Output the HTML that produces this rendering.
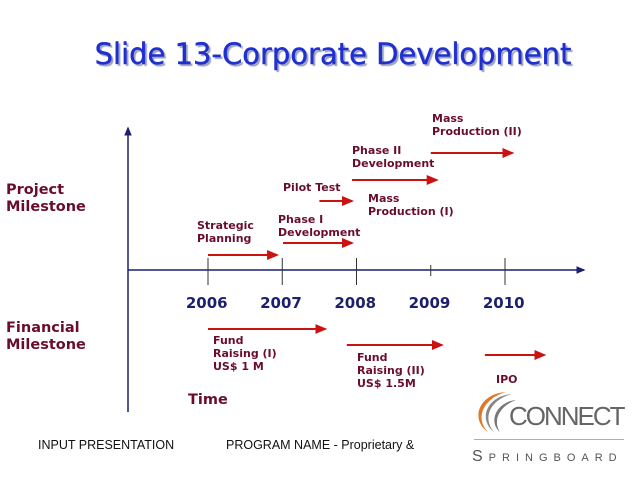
<!DOCTYPE html>
<html><head><meta charset="utf-8"><style>
body{margin:0;width:638px;height:478px;background:#fff;overflow:hidden;position:relative;font-family:"DejaVu Sans","Liberation Sans",sans-serif}
.t{position:absolute;color:#6a0c2e;font-weight:bold;font-size:11px;line-height:13px;white-space:nowrap}
.big{position:absolute;color:#6a0c2e;font-weight:bold;font-size:14.5px;line-height:17px}
.yr{position:absolute;color:#1c1f6e;font-weight:bold;font-size:15px;transform:translateX(-53%);top:294px}
.foot{position:absolute;font-family:"Liberation Sans",sans-serif;font-size:12.5px;color:#111;top:438px}
</style></head><body>
<div style="position:absolute;left:0;width:666px;text-align:center;top:37px;font-size:29px;color:#1f2fd0;-webkit-text-stroke:0.4px #1f2fd0;text-shadow:2px 2px 1px #9aa0b8">Slide 13-Corporate Development</div>
<div class="big" style="left:6px;top:182px">Project<br>Milestone</div>
<div class="big" style="left:6px;top:320px">Financial<br>Milestone</div>
<svg id="chart" width="638" height="478" style="position:absolute;left:0;top:0">
<defs>
<marker id="ar" markerWidth="6" markerHeight="6" refX="5" refY="3" orient="auto"><path d="M0,0.5 L6,3 L0,5.5z" fill="#cc1111"/></marker>
<marker id="ab" markerWidth="6" markerHeight="6" refX="5" refY="3" orient="auto"><path d="M0,0.5 L6,3 L0,5.5z" fill="#1c1f6e"/></marker>
</defs>
</svg>
<div class="t" style="left:197px;top:219px">Strategic<br>Planning</div>
<div class="t" style="left:278px;top:213px">Phase I<br>Development</div>
<div class="t" style="left:283px;top:181px">Pilot Test</div>
<div class="t" style="left:368px;top:192px">Mass<br>Production (I)</div>
<div class="t" style="left:352px;top:144px">Phase II<br>Development</div>
<div class="t" style="left:432px;top:112px">Mass<br>Production (II)</div>
<div class="t" style="left:213px;top:334px">Fund<br>Raising (I)<br>US$ 1 M</div>
<div class="t" style="left:357px;top:351px">Fund<br>Raising (II)<br>US$ 1.5M</div>
<div class="t" style="left:496px;top:373px">IPO</div>
<div class="big" style="left:188px;top:392px;font-size:14.5px">Time</div>
<div class="foot" style="left:38px">INPUT PRESENTATION</div>
<div class="foot" style="left:226px">PROGRAM NAME - Proprietary &amp;</div>
<div style="position:absolute;left:472px;top:390px;width:160px;height:80px">
<svg width="160" height="50" style="position:absolute;left:0;top:0">
<path d="M34,2 C6,4 -2,30 16,42 C2,28 12,8 34,2z" fill="#e07828"/>
<path d="M40,4 C14,6 6,30 22,42 C10,28 18,10 40,4z" fill="#888"/>
<path d="M44,10 C24,12 16,32 28,42 C20,30 28,16 44,10z" fill="#777"/>
</svg>
<div style="position:absolute;left:37px;top:11px;font-family:'Liberation Sans',sans-serif;font-size:26px;color:#666;letter-spacing:-2px">CONNECT</div>
<div style="position:absolute;left:2px;top:49px;width:150px;height:1px;background:#e8a060"></div>
<div style="position:absolute;left:0;top:58px;font-family:'Liberation Sans',sans-serif;font-size:16px;color:#555;letter-spacing:6px">S<span style="font-size:11px">PRINGBOARD</span></div>
</div>
<script>
const years=[2006,2007,2008,2009,2010];
const projStart=[2006.0,2007.01,2007.5,2007.94,2009.0];
const projEnd=[2006.93,2007.94,2007.94,2009.08,2010.1];
const projLevel=[255,243,201,180,153];
const finStart=[2006.0,2007.87,2009.73];
const finEnd=[2007.58,2009.15,2010.53];
const finLevel=[329,345,355];
const svg=document.getElementById('chart');
const NS='http://www.w3.org/2000/svg';
function x(y){return 208+(y-2006)*74.25;}
function ln(x1,y1,x2,y2,c,w,m,name){const l=document.createElementNS(NS,'line');
l.setAttribute('x1',x1);l.setAttribute('y1',y1);l.setAttribute('x2',x2);l.setAttribute('y2',y2);
l.setAttribute('stroke',c);l.setAttribute('stroke-width',w);if(m)l.setAttribute('marker-end','url(#'+m+')');


svg.appendChild(l);}
ln(128,412,128,128,'#1c1f6e',1.5,'ab','vertical-axis');
ln(128,270,584,270,'#1c1f6e',1.5,'ab','time-axis');
years.forEach((yr,i)=>{const big=(i%2==0||i==1);ln(x(yr),big?258:265,x(yr),big?285:276,'#333',1,null,'tick-'+yr);
const d=document.createElement('div');d.className='yr';d.style.left=x(yr)+'px';d.textContent=yr;


document.body.appendChild(d);});
projStart.forEach((s,i)=>ln(x(s),projLevel[i],x(projEnd[i]),projLevel[i],'#cc1111',2,'ar','project-arrow-'+i));
finStart.forEach((s,i)=>ln(x(s),finLevel[i],x(finEnd[i]),finLevel[i],'#cc1111',2,'ar','financial-arrow-'+i));
</script>
</body></html>
